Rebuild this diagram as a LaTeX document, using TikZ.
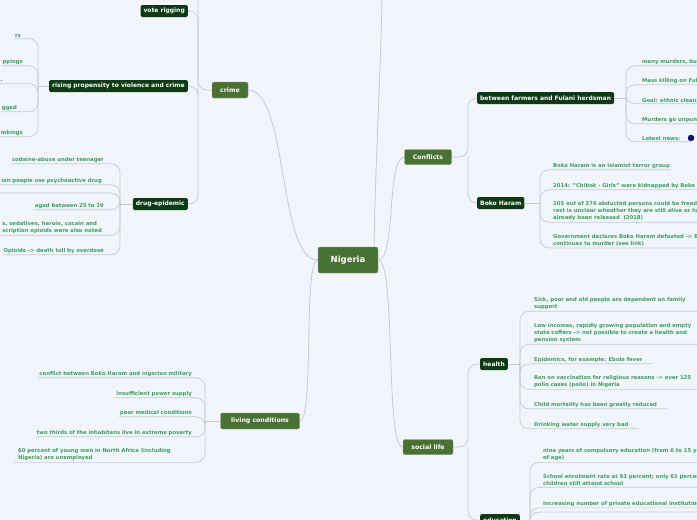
\documentclass[tikz,border=0pt]{standalone}
\usepackage{fontspec}
\setmainfont{DejaVu Sans}
\definecolor{bg}{HTML}{F3F5FD}
\definecolor{mainc}{HTML}{4A7134}
\definecolor{darkc}{HTML}{0C3A13}
\definecolor{leafc}{HTML}{3A9F5A}
\definecolor{linec}{HTML}{C9CBD3}
\tikzset{
 root/.style={fill=mainc,draw=mainc!70!white,rounded corners=2pt,text=white,font=\fontsize{8.5}{9}\selectfont\bfseries,minimum width=60pt,minimum height=26pt,inner sep=1pt},
 mainb/.style={fill=mainc,draw=mainc!70!white,rounded corners=2pt,text=white,font=\fontsize{6.2}{7}\selectfont\bfseries,minimum height=16pt,inner xsep=5pt},
 subb/.style={fill=darkc,rounded corners=1.5pt,text=white,font=\fontsize{6}{7}\selectfont\bfseries,minimum height=12pt,inner xsep=3pt,inner ysep=1pt},
 leaf/.style={text=leafc,font=\fontsize{5.3}{6.8}\selectfont\bfseries,inner xsep=1pt,inner ysep=1.5pt},
 br/.style={draw=linec,line width=0.7pt,rounded corners=9pt},
 cv/.style={draw=linec,line width=0.8pt},
}
\begin{document}
\begin{tikzpicture}[x=1pt,y=-1pt]
\fill[bg] (0,0) rectangle (697,520);
\useasboundingbox (0,0) rectangle (697,520);
\clip (0,0) rectangle (697,520);
% root
\node[root] (ng) at (348,260) {Nigeria};
% main branches
\node[mainb,minimum width=36pt] (crime) at (230,90) {crime};
\node[mainb,minimum width=47pt,minimum height=15pt] (conf) at (428,157) {Conflicts};
\node[mainb,minimum width=50pt,minimum height=15pt] (soc) at (428,447) {social life};
\node[mainb,minimum width=79pt] (liv) at (260,421) {living conditions};
\coordinate (topl) at (382,-12);
\draw[cv] (ng.north east) ++(-4,0) .. controls +(0,-60) and +(0,60) .. (topl);
\draw[cv] (ng.west) .. controls +(-40,0) and +(40,0) .. (crime.east);
\draw[cv] (ng.east) .. controls +(18,0) and +(-18,0) .. (conf.west);
\draw[cv] (ng.east) .. controls +(18,0) and +(-18,0) .. (soc.west);
\draw[cv] (ng.west) .. controls +(-15,0) and +(15,0) .. (liv.east);

% crime
\node[subb,anchor=east] (vote) at (188,11) {vote rigging};
\node[subb,anchor=east] (rise) at (188,86) {rising propensity to violence and crime};
\node[subb,anchor=east] (drug) at (188,204) {drug-epidemic};
\coordinate (jc) at (198,90);
\coordinate (ctop) at (190,-12);
\draw[br] (crime.west) -- (jc) |- (vote.east);
\draw[br] (jc) |- (rise.east);
\draw[br] (jc) |- (drug.east);
\draw[br] (jc) |- (ctop);

% rising leaves
\coordinate (jr) at (38,86);
\draw[br] (rise.west) -- (jr);
\node[leaf,anchor=base east] (r1) at (22,37) {rs};
\node[leaf,anchor=base east] (r2) at (24,63) {ppings};
\node[leaf,anchor=base east] (r3) at (4,82) {-};
\node[leaf,anchor=base east] (r4) at (18,109) {gged};
\node[leaf,anchor=base east] (r5) at (24,134) {mbings};
\foreach \l in {r2,r3,r4,r5}{\draw[br] (jr) |- (\l.south west);}
\draw[br] (jr) |- (r1.south west);

% drug leaves
\coordinate (jd) at (120,204);
\draw[br] (drug.west) -- (jd);
\node[leaf,anchor=base east] (d1) at (105,161) {codaine-abuse under teenager};
\node[leaf,anchor=base east] (d2) at (103,182) {ion people use psychoactive drug};
\node[leaf,anchor=base east] (d3) at (105,207) {aged between 25 to 39};
\node[leaf,anchor=north east,align=left] (d4) at (103,220) {s, sedatives, heroin, cocain and\\scription opioids were also noted};
\node[leaf,anchor=base east] (d5) at (105,252) {Opioids -> death toll by overdose};
\foreach \l in {d1,d2,d3,d4,d5}{\draw[br] (jd) |- (\l.south west);}
\draw[br] (jd) |- (0,193);

% conflicts
\node[subb,anchor=west] (farm) at (477,98) {between farmers and Fulani herdsman};
\node[subb,anchor=west] (boko) at (477,203) {Boko Haram};
\coordinate (jcf) at (468,157);
\draw[br] (conf.east) -- (jcf) |- (farm.west);
\draw[br] (jcf) |- (boko.west);
\coordinate (jf) at (626,98);
\draw[br] (farm.east) -- (jf);
\node[leaf,anchor=base west] (f1) at (641,63) {many murders, bu};
\node[leaf,anchor=base west] (f2) at (641,82) {Mass killing on Ful};
\node[leaf,anchor=base west] (f3) at (641,102) {Goal: ethnic cleans};
\node[leaf,anchor=base west] (f4) at (641,121) {Murders go unpuni};
\node[leaf,anchor=base west] (f5) at (641,140) {Latest news:};
\foreach \l in {f1,f2,f3,f4}{\draw[br] (jf) |- (\l.south east) -- ++(20,0);}
\draw[br] (jf) |- (f5.south east) -- ++(4,0);
\fill[blue!45!black] (691,138) circle (3.2pt);
\fill[green!40!black,opacity=0.6] (690,137) circle (1.5pt);
\coordinate (jb) at (540,203);
\draw[br] (boko.east) -- (jb);
\node[leaf,anchor=base west] (b1) at (552,167) {Boko Haram is an Islamist terror group};
\node[leaf,anchor=base west] (b2) at (552,187) {2014: "Chibok - Girls" were kidnapped by Boko};
\node[leaf,anchor=north west,align=left] (b3) at (552,200) {105 out of 276 abducted persons could be freed, the\\rest is unclear wheather they are still alive or have\\already been released\ \ (2018)};
\node[leaf,anchor=north west,align=left] (b4) at (552,233) {Government declares Boko Haram defeated -> Boko Haram\\continues to murder (see link)};
\draw[br] (jb) |- (b1.south east);
\foreach \l in {b2,b3,b4}{\draw[br] (jb) |- (\l.south east) -- ++(40,0);}

% social life
\node[subb,anchor=west] (hea) at (480,364) {health};
\node[subb,anchor=north west] (edu) at (480,514) {education};
\coordinate (js) at (468,447);
\draw[br] (soc.east) -- (js) |- (hea.west);
\draw[br] (js) |- (edu.west);
\coordinate (jh) at (520,364);
\draw[br] (hea.east) -- (jh);
\node[leaf,anchor=north west,align=left] (h1) at (533,296) {Sick, poor and old people are dependent on family\\support};
\node[leaf,anchor=north west,align=left] (h2) at (533,322) {Low incomes, rapidly growing population and empty\\state coffers -> not possible to create a health and\\pension system};
\node[leaf,anchor=base west] (h3) at (533,361) {Epidemics, for example: Ebola fever};
\node[leaf,anchor=north west,align=left] (h4) at (533,374) {Ban on vaccination for religious reasons -> over 125\\polio cases (polio) in Nigeria};
\node[leaf,anchor=base west] (h5) at (533,406) {Child mortality has been greatly reduced};
\node[leaf,anchor=base west] (h6) at (533,426) {Drinking water supply very bad};
\foreach \l in {h1,h2,h4}{\draw[br] (jh) |- (\l.south east) -- ++(30,0);}
\foreach \l in {h3,h5,h6}{\draw[br] (jh) |- (\l.south east) -- ++(4,0);}
\coordinate (je) at (530,525);
\node[leaf,anchor=north west,align=left] (e1) at (542,447) {nine years of compulsory education (from 6 to 15 years\\of age)};
\node[leaf,anchor=north west,align=left] (e2) at (542,473) {School enrolment rate at 93 percent; only 61 percent of\\children still attend school};
\node[leaf,anchor=base west] (e3) at (542,505) {Increasing number of private educational institutions};
\foreach \l in {e1,e2,e3}{\draw[br] (je) |- (\l.south east) -- ++(30,0);}
\draw[br] (je) |- (700,512);

% living conditions
\coordinate (jl) at (205,421);
\draw[br] (liv.west) -- (jl);
\node[leaf,anchor=base east] (l1) at (193,375) {conflict between Boko Haram and nigerian military};
\node[leaf,anchor=base east] (l2) at (193,395) {insufficient power supply};
\node[leaf,anchor=base east] (l3) at (193,414) {poor medical conditions};
\node[leaf,anchor=base east] (l4) at (193,434) {two thirds of the inhabitans live in extreme poverty};
\node[leaf,anchor=north west,align=left] (l5) at (17,447) {60 percent of young men in North Africa (including\\Nigeria) are unemployed};
\foreach \l in {l1,l2,l3,l4}{\draw[br] (jl) |- (\l.south west);}
\draw[br] (jl) |- ([xshift=-3pt]l5.south west);
\end{tikzpicture}
\end{document}
